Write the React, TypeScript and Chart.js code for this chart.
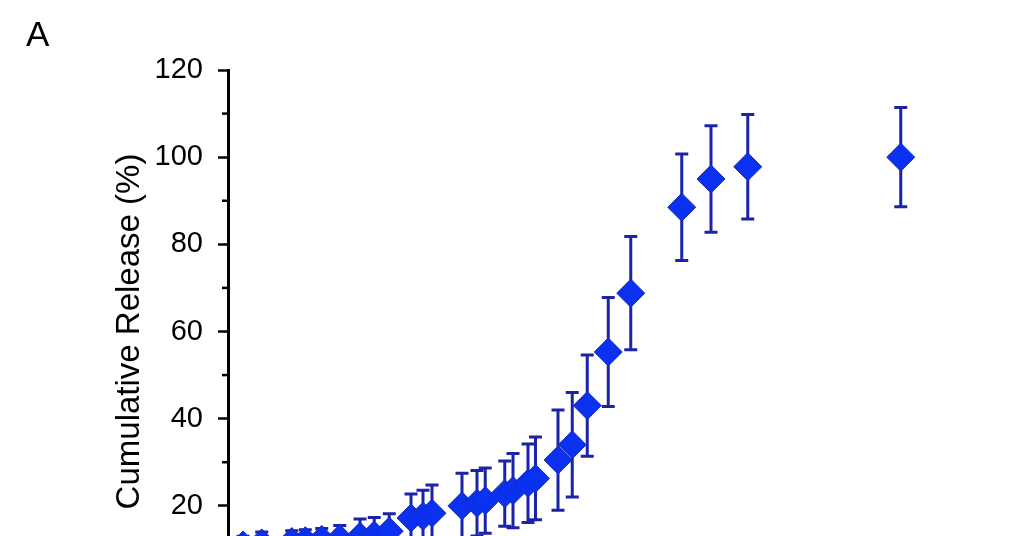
import React, { useEffect, useRef } from "react";
import { Chart, registerables } from "chart.js";

Chart.register(...registerables);

// Time points (arbitrary time units; x-axis lies below the visible crop)
const timePoints = [2, 4.5, 8.5, 10.3, 12.5, 14.9, 17.6, 19.5, 21.5, 24.4, 26, 27.2, 31.2, 33.2, 34.3, 36.9, 38, 40, 41, 44, 45.9, 47.9, 50.7, 53.7, 60.5, 64.4, 69.3, 89.7];
// Cumulative release mean (%)
const releaseMean = [11.0, 11.5, 11.8, 12.0, 12.3, 12.5, 13.0, 13.3, 14.2, 17.2, 17.6, 18.3, 20.0, 20.6, 21.2, 22.8, 23.5, 25.2, 26.3, 30.5, 34.0, 43.0, 55.3, 68.8, 88.5, 95.0, 97.8, 100];
// Standard deviation (%)
const releaseSD = [2, 2.5, 2.5, 2.5, 2.5, 3, 4, 4, 4, 5.5, 6, 6.5, 7.5, 7.5, 7.5, 7.5, 8.5, 9, 9.5, 11.5, 12, 11.6, 12.5, 13, 12.2, 12.2, 12, 11.4];
// Y axis ticks
const yMajorTicks = [0, 20, 40, 60, 80, 100, 120];
const yMinorTicks = [10, 30, 50, 70, 90, 110];

const yTitle = "Cumulative Release (%)";
const panelLabel = "A";

const errorBarPlugin = {
  id: "errorBars",
  beforeDatasetsDraw(chart: any) {
    const { ctx, scales } = chart;
    const x = scales.x;
    const y = scales.y;
    ctx.save();
    ctx.strokeStyle = "#1b24a8";
    ctx.lineWidth = 3;
    timePoints.forEach((t, i) => {
      const px = x.getPixelForValue(t);
      const top = y.getPixelForValue(releaseMean[i] + releaseSD[i]);
      const bot = y.getPixelForValue(releaseMean[i] - releaseSD[i]);
      ctx.beginPath();
      ctx.moveTo(px, top);
      ctx.lineTo(px, bot);
      ctx.moveTo(px - 6.5, top);
      ctx.lineTo(px + 6.5, top);
      ctx.moveTo(px - 6.5, bot);
      ctx.lineTo(px + 6.5, bot);
      ctx.stroke();
    });
    ctx.restore();
  },
};

const minorTickPlugin = {
  id: "minorTicks",
  afterDraw(chart: any) {
    const { ctx, scales, chartArea } = chart;
    const y = scales.y;
    ctx.save();
    ctx.strokeStyle = "#000";
    ctx.lineWidth = 2.5;
    yMinorTicks.forEach((v) => {
      const py = y.getPixelForValue(v);
      ctx.beginPath();
      ctx.moveTo(chartArea.left - 6, py);
      ctx.lineTo(chartArea.left, py);
      ctx.stroke();
    });
    ctx.restore();
  },
};

export default function App() {
  const canvasRef = useRef<HTMLCanvasElement | null>(null);

  useEffect(() => {
    if (!canvasRef.current) return;
    const chart = new Chart(canvasRef.current, {
      type: "scatter",
      data: {
        datasets: [
          {
            label: "Release",
            data: timePoints.map((t, i) => ({ x: t, y: releaseMean[i] })),
            pointStyle: "rectRot",
            pointRadius: 14,
            pointBackgroundColor: "#0a30f0",
            pointBorderColor: "#1a2ab8",
            pointBorderWidth: 1,
            showLine: false,
          },
        ],
      },
      options: {
        animation: false,
        responsive: false,
        maintainAspectRatio: false,
        layout: { padding: { left: 0, top: 62, right: 38, bottom: 35 } },
        plugins: {
          legend: { display: false },
          tooltip: { enabled: false },
        },
        scales: {
          x: {
            type: "linear",
            display: false,
            min: 0,
            max: 100,
          },
          y: {
            type: "linear",
            min: 0,
            max: 120,
            afterFit: (scale: any) => {
              scale.width = 220;
            },
            afterBuildTicks: (scale: any) => {
              scale.ticks = yMajorTicks.map((v) => ({ value: v }));
            },
            grid: {
              drawOnChartArea: false,
              drawTicks: true,
              tickLength: 10,
              tickWidth: 2.5,
              tickColor: "#000",
            },
            border: { display: true, color: "#000", width: 3 },
            ticks: {
              color: "#000",
              padding: 15,
              font: { family: "Liberation Sans", size: 29 },
            },
            title: {
              display: true,
              text: yTitle,
              color: "#000",
              font: { family: "Liberation Sans", size: 33 },
              padding: { top: 102, bottom: 0 },
            },
          },
        },
      },
      plugins: [errorBarPlugin, minorTickPlugin],
    });
    return () => chart.destroy();
  }, []);

  return (
    <div style={{ position: "relative", width: 1008, height: 620 }}>
      <canvas ref={canvasRef} width={1008} height={620} style={{ display: "block" }} />
      <div
        style={{
          position: "absolute",
          left: 18,
          top: 6,
          fontFamily: "Liberation Sans",
          fontSize: 35,
          color: "#000",
        }}
      >
        {panelLabel}
      </div>
    </div>
  );
}
